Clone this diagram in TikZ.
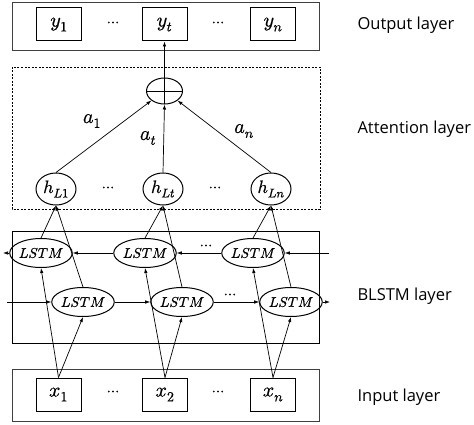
\documentclass[tikz,border=0pt]{standalone}
\usepackage{amsmath}
\usepackage{fontspec}
\usepackage{unicode-math}
\setmathfont{Latin Modern Math}[FakeBold=0.8]
\usepackage{tikz}
\usetikzlibrary{arrows.meta,shapes.geometric,positioning}
\newfontfamily\layerfont{Open Sans}

\begin{document}
\begin{tikzpicture}[x=1pt, y=-1pt, >={Latex[length=5pt,width=3.5pt]},
  layerbox/.style={draw, line width=1pt},
  cellbox/.style={draw, line width=1pt, minimum width=45pt, minimum height=33pt, inner sep=0pt, font=\fontsize{20}{24}\selectfont},
  lstmcell/.style={draw, ellipse, line width=1pt, minimum width=36pt, minimum height=29pt, inner sep=0pt, font=\fontsize{14}{16}\selectfont},
  hcell/.style={draw, ellipse, line width=1pt, minimum width=40pt, minimum height=32pt, inner sep=0pt, font=\fontsize{18}{20}\selectfont},
  dotsnode/.style={font=\fontsize{15}{16}\selectfont},
  layername/.style={anchor=west, font=\layerfont\fontsize{16.5}{18}\selectfont},
  link/.style={line width=0.7pt}]

\useasboundingbox (0,0) rectangle (474,425);

% ---------------- 1. LAYER FRAMES ----------------
\draw[layerbox, black!75] (12,3) rectangle (319,51);
\draw[line width=0.8pt, dash pattern=on 2pt off 1.5pt] (12,67) rectangle (320,209);
\draw[layerbox] (12,231) rectangle (319,343);
\draw[layerbox, black!75] (12,369) rectangle (319,421);

% ---------------- 2. OUTPUT LAYER ----------------
\node[cellbox] (y1) at (59,24.5) {$y_1$};
\node[cellbox] (yt) at (164.5,24.5) {$y_t$};
\node[cellbox] (yn) at (273,24.5) {$y_n$};
\node[dotsnode] at (113,24) {$\cdots$};
\node[dotsnode] at (218,24) {$\cdots$};

% ---------------- 3. ATTENTION LAYER ----------------
\node[draw, ellipse, line width=1pt, minimum width=36pt, minimum height=26pt, inner sep=0pt] (sum) at (164.5,91) {};
\draw[line width=0.8pt] (sum.north) -- (sum.south);
\draw[line width=0.8pt] (sum.west) -- (sum.east);
\draw[->, link] (sum.north) -- (yt.south);

\node[hcell] (h1) at (56,189) {$h_{L1}$};
\node[hcell] (ht) at (163,189) {$h_{Lt}$};
\node[hcell] (hn) at (271,189) {$h_{Ln}$};
\node[dotsnode] at (108,189) {$\cdots$};
\node[dotsnode] at (215,189) {$\cdots$};

\draw[->, link] (h1.north) -- (sum.south west);
\draw[->, link] (ht.north) -- (sum.south);
\draw[->, link] (hn.north) -- (sum.south east);

\node[font=\fontsize{20}{24}\selectfont] at (92,121) {$a_1$};
\node[font=\fontsize{20}{24}\selectfont] at (148,138) {$a_t$};
\node[font=\fontsize{20}{24}\selectfont] at (244,131) {$a_n$};

% ---------------- 4. BLSTM LAYER ----------------
\node[lstmcell] (u1) at (41,253) {$LSTM$};
\node[lstmcell] (u2) at (145,253) {$LSTM$};
\node[lstmcell] (u3) at (253,253) {$LSTM$};
\node[lstmcell] (l1) at (83,302) {$LSTM$};
\node[lstmcell] (l2) at (182,302) {$LSTM$};
\node[lstmcell] (l3) at (291,302) {$LSTM$};
\node[dotsnode] at (206,247) {$\cdots$};
\node[dotsnode] at (230,296) {$\cdots$};

\coordinate (bwin) at (329,253);
\coordinate (bwout) at (3,253);
\coordinate (fwin) at (7,302);
\coordinate (fwout) at (330,302);

% backward direction
\draw[->, link] (bwin) -- (u3.east);
\draw[->, link] (u3.west) -- (u2.east);
\draw[->, link] (u2.west) -- (u1.east);
\draw[->, link] (u1.west) -- (bwout);
% forward direction
\draw[->, link] (fwin) -- (l1.west);
\draw[->, link] (l1.east) -- (l2.west);
\draw[->, link] (l2.east) -- (l3.west);
\draw[->, link] (l3.east) -- (fwout);

% states into attention
\draw[->, link] (u1.north) -- (h1.south);
\draw[->, link] (l1.north) -- (h1.south);
\draw[->, link] (u2.north) -- (ht.south);
\draw[->, link] (l2.north) -- (ht.south);
\draw[->, link] (u3.north) -- (hn.south);
\draw[->, link] (l3.north) -- (hn.south);

% ---------------- 5. INPUT LAYER ----------------
\node[cellbox] (x1) at (58.5,394.5) {$x_1$};
\node[cellbox] (x2) at (165,394.5) {$x_2$};
\node[cellbox] (xn) at (273,394.5) {$x_n$};
\node[dotsnode] at (113,393) {$\cdots$};
\node[dotsnode] at (218,393) {$\cdots$};

\draw[->, link] (x1.north) -- (u1.south);
\draw[->, link] (x1.north) -- (l1.south);
\draw[->, link] (x2.north) -- (u2.south);
\draw[->, link] (x2.north) -- (l2.south);
\draw[->, link] (xn.north) -- (u3.south);
\draw[->, link] (xn.north) -- (l3.south);

% ---------------- 6. LAYER NAMES ----------------
\node[layername] at (354,25) {Output layer};
\node[layername] at (354,129) {Attention layer};
\node[layername] at (354,296) {BLSTM layer};
\node[layername] at (354,397) {Input layer};

\end{tikzpicture}
\end{document}
